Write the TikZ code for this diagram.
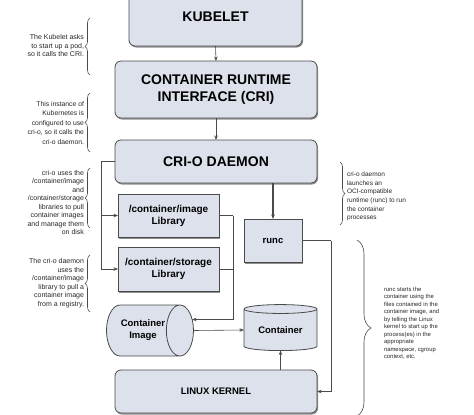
\documentclass[tikz,border=0pt]{standalone}
\usepackage{fontspec}
\setmainfont{Liberation Sans}
\usetikzlibrary{shapes.geometric,arrows.meta,decorations.pathreplacing,shadows,calc}
\definecolor{boxfill}{HTML}{DDE1EC}
\definecolor{linec}{HTML}{4A4A4A}
\begin{document}
\begin{tikzpicture}[x=1pt,y=-1pt,
  every node/.style={inner sep=0pt,outer sep=0pt},
  bigbox/.style={draw=linec,line width=0.8pt,fill=boxfill,rounded corners=6pt,
    drop shadow={shadow xshift=1pt,shadow yshift=-1.5pt,fill=black!55,opacity=0.8},
    font=\fontsize{14}{17}\selectfont\bfseries,align=center},
  smallbox/.style={draw=linec,line width=0.8pt,fill=boxfill,
    drop shadow={shadow xshift=1pt,shadow yshift=-1.5pt,fill=black!55,opacity=0.8},
    font=\fontsize{10}{12}\selectfont\bfseries,align=center},
  cyl/.style={draw=linec,line width=0.8pt,fill=boxfill,cylinder,
    cylinder uses custom fill,cylinder body fill=boxfill,cylinder end fill=boxfill,
    font=\fontsize{9.5}{12}\selectfont\bfseries,align=center},
  conn/.style={draw=linec,line width=0.6pt},
  arr/.style={conn,-{Stealth[length=4.5pt,width=3.5pt]}},
  note/.style={font=\fontsize{7}{8.5}\selectfont,text=black!85},
  brc/.style={draw=linec,line width=0.6pt,decorate,decoration={brace,amplitude=5pt}}
]
\useasboundingbox (0,0) rectangle (474,415);

% main boxes
\node[bigbox,minimum width=173pt,minimum height=58pt] (kube) at (215.5,17) {KUBELET};
\node[bigbox,minimum width=202pt,minimum height=57pt] (cri) at (216,89.5) {CONTAINER RUNTIME\\INTERFACE (CRI)};
\node[bigbox,minimum width=202pt,minimum height=43pt] (crio) at (216,161.5) {CRI-O DAEMON};
\node[smallbox,minimum width=101pt,minimum height=43pt] (imglib) at (168.5,215.5) {/container/image\\Library};
\node[smallbox,minimum width=101pt,minimum height=44pt] (storlib) at (168.5,269) {/container/storage\\Library};
\node[smallbox,minimum width=58pt,minimum height=43pt,font=\fontsize{9.5}{12}\selectfont\bfseries] (runc) at (273,240.5) {runc};
\node[cyl,minimum height=87pt,minimum width=51pt,aspect=1.3] (cimg) at (143,330.5) {Container\\Image};
\node[cyl,shape border rotate=90,minimum width=73pt,minimum height=46pt,aspect=0.2] (cont) at (280.5,330) {Container};
\node[bigbox,minimum width=202pt,minimum height=43pt,font=\fontsize{9.5}{12}\selectfont\bfseries] (kern) at (216,391.5) {LINUX KERNEL};

% connectors
\draw[arr] (kube.south) -- (cri.north);
\draw[arr] (cri.south) -- (crio.north);
\draw[conn] (crio.west) -- ++(-14,0) coordinate (lft);
\draw[arr] (lft) |- (imglib.west);
\draw[arr] (lft) |- (storlib.west);
\draw[arr,line width=1.1pt] (crio.south -| runc.north) -- (runc.north);
\draw[conn] (imglib.east) -- ++(14,0) coordinate (rgt);
\draw[conn] (storlib.east) -| (rgt);
\coordinate (cimgin) at ($(cimg.east)+(-1.5,-11)$);
\draw[arr] (rgt) |- (cimgin);
\draw[arr] (cimg.east) -- (cont.west);
\draw[conn] (runc.east) -- ++(29,0) coordinate (rr);
\draw[arr] (rr) |- (kern.east);
\draw[arr] (kern.north -| cont.south) -- (cont.south);

% left notes
\coordinate (b1a) at (90,75); \coordinate (b1b) at (90,18);
\draw[brc] (b1a) -- (b1b);
\node[note,align=right,anchor=east] (n1) at (84,45.5) {The Kubelet asks\\to start up a pod,\\so it calls the CRI.};

\coordinate (b2a) at (90,152); \coordinate (b2b) at (90,93);
\draw[brc] (b2a) -- (b2b);
\node[note,align=right,anchor=east,font=\fontsize{6.8}{9.5}\selectfont] (n2) at (84,123) {This instance of\\Kubernetes is\\configured to use\\cri-o, so it calls the\\cri-o daemon.};

\coordinate (b3a) at (90,228); \coordinate (b3b) at (90,168);
\draw[brc] (b3a) -- (b3b);
\node[note,align=right,anchor=east] (n3) at (84,202.5) {cri-o uses the\\/container/image\\and\\/container/storage\\libraries to pull\\container images\\and manage them\\on disk};

\coordinate (b4a) at (90,312); \coordinate (b4b) at (90,255);
\draw[brc] (b4a) -- (b4b);
\node[note,align=right,anchor=east] (n4) at (84,283) {The cri-o daemon\\uses the\\/container/image\\library to pull a\\container image\\from a registry.};

% right notes
\coordinate (b5a) at (340,162); \coordinate (b5b) at (340,225);
\draw[brc] (b5a) -- (b5b);
\node[note,align=left,anchor=west,font=\fontsize{6.5}{8.6}\selectfont] (n5) at (347,196.5) {cri-o daemon\\launches an\\OCI-compatible\\runtime (runc) to run\\the container\\processes};

\coordinate (b6a) at (357,240); \coordinate (b6b) at (357,416);
\draw[brc,decoration={brace,amplitude=14pt}] (b6a) -- (b6b);
\node[note,align=left,anchor=west,font=\fontsize{5.9}{7.5}\selectfont] (n6) at (384,323) {runc starts the\\container using the\\files contained in the\\container image, and\\by telling the Linux\\kernel to start up the\\process(es) in the\\appropriate\\namespace, cgroup\\context, etc.};
\end{tikzpicture}
\end{document}
